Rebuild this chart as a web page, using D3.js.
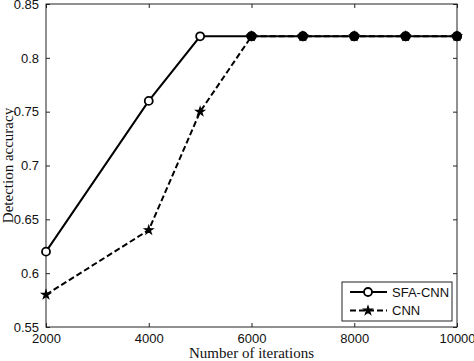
<!DOCTYPE html>
<html><head><meta charset="utf-8">
<script src="https://cdn.jsdelivr.net/npm/d3@7"></script>
<style>body{margin:0;background:#fff}svg{display:block}</style>
</head><body>
<script>
const iterations = [2000, 4000, 5000, 6000, 7000, 8000, 9000, 10000];
const sfaCnn = [0.62, 0.76, 0.82, 0.82, 0.82, 0.82, 0.82, 0.82];
const cnn = [0.58, 0.64, 0.75, 0.82, 0.82, 0.82, 0.82, 0.82];
const xTicks = [2000, 4000, 6000, 8000, 10000];
const yTicks = [0.55, 0.6, 0.65, 0.7, 0.75, 0.8, 0.85];
const seriesNames = ["SFA-CNN", "CNN"];

const W = 474, H = 361;
const m = {left: 46, right: 17, top: 4, bottom: 34};
const svg = d3.select("body").append("svg").attr("width", W).attr("height", H);
const x = d3.scaleLinear().domain([2000, 10000]).range([m.left, W - m.right]);
const y = d3.scaleLinear().domain([0.55, 0.85]).range([H - m.bottom, m.top]);
const sans = "Liberation Sans, Arial, sans-serif";
const serif = "Liberation Serif, Times New Roman, serif";

// box
svg.append("rect").attr("x", x(2000)).attr("y", y(0.85))
  .attr("width", x(10000) - x(2000)).attr("height", y(0.55) - y(0.85))
  .attr("fill", "none").attr("stroke", "#222").attr("stroke-width", 1);

const tl = 4;
const axB = svg.append("g").attr("transform", `translate(0,${y(0.55)})`)
  .call(d3.axisBottom(x).tickValues(xTicks).tickFormat(d3.format("d")).tickSizeInner(-tl).tickSizeOuter(0).tickPadding(7));
const axT = svg.append("g").attr("transform", `translate(0,${y(0.85)})`)
  .call(d3.axisTop(x).tickValues(xTicks).tickFormat("").tickSizeInner(-tl).tickSizeOuter(0));
const axL = svg.append("g").attr("transform", `translate(${x(2000)},0)`)
  .call(d3.axisLeft(y).tickValues(yTicks).tickFormat(d => d3.format("")(+d.toFixed(2))).tickSizeInner(-tl).tickSizeOuter(0).tickPadding(7));
const axR = svg.append("g").attr("transform", `translate(${x(10000)},0)`)
  .call(d3.axisRight(y).tickValues(yTicks).tickFormat("").tickSizeInner(-tl).tickSizeOuter(0));
[axB, axT, axL, axR].forEach(a => {
  a.select(".domain").remove();
  a.selectAll(".tick line").attr("stroke", "#222");
  a.selectAll("text").attr("font-family", sans).attr("font-size", 13).attr("fill", "#111");
});
axB.selectAll("text").attr("dy", "0.71em");

// lines
const line = d3.line().x((d, i) => x(iterations[i])).y(d => y(d));
svg.append("path").datum(sfaCnn).attr("d", line).attr("fill", "none")
  .attr("stroke", "#000").attr("stroke-width", 2);
svg.append("path").datum(cnn).attr("d", line).attr("fill", "none")
  .attr("stroke", "#000").attr("stroke-width", 2).attr("stroke-dasharray", "6,3");

// markers
const star = d3.symbol().type(d3.symbolStar).size(22);
svg.selectAll(".m1").data(sfaCnn).enter().append("circle")
  .attr("cx", (d, i) => x(iterations[i])).attr("cy", d => y(d)).attr("r", 4)
  .attr("fill", "#fff").attr("stroke", "#000").attr("stroke-width", 1.8);
svg.selectAll(".m2").data(cnn).enter().append("path")
  .attr("d", star).attr("transform", (d, i) => `translate(${x(iterations[i])},${y(d)})`)
  .attr("fill", "#000").attr("stroke", "#000").attr("stroke-width", 1.2);
// where both series coincide, the overlapping markers read as a solid dot
iterations.forEach((it, i) => {
  if (cnn[i] === sfaCnn[i]) {
    svg.append("circle").attr("cx", x(it)).attr("cy", y(cnn[i])).attr("r", 5).attr("fill", "#000");
  }
});

// legend
const lg = svg.append("g");
lg.append("rect").attr("x", 342).attr("y", 282).attr("width", 110).attr("height", 39)
  .attr("fill", "#fff").attr("stroke", "#222").attr("stroke-width", 1);
[0, 1].forEach(k => {
  const yy = 292 + k * 18.5;
  lg.append("line").attr("x1", 350).attr("x2", 387).attr("y1", yy).attr("y2", yy)
    .attr("stroke", "#000").attr("stroke-width", 2).attr("stroke-dasharray", k ? "6,3" : null);
  if (k === 0) lg.append("circle").attr("cx", 368).attr("cy", yy).attr("r", 4)
    .attr("fill", "#fff").attr("stroke", "#000").attr("stroke-width", 1.8);
  else lg.append("path").attr("d", star).attr("transform", `translate(368,${yy})`)
    .attr("fill", "#000").attr("stroke", "#000").attr("stroke-width", 1.2);
  lg.append("text").attr("x", 392).attr("y", yy + 4.5).text(seriesNames[k])
    .attr("font-family", sans).attr("font-size", 13).attr("fill", "#111");
});

// axis titles
svg.append("text").attr("x", (x(2000) + x(10000)) / 2).attr("y", 358).attr("text-anchor", "middle")
  .attr("font-family", serif).attr("font-size", 15).attr("fill", "#111").text("Number of iterations");
svg.append("text").attr("transform", `translate(13,${(y(0.55) + y(0.85)) / 2}) rotate(-90)`)
  .attr("text-anchor", "middle").attr("font-family", serif).attr("font-size", 15).attr("fill", "#111")
  .text("Detection accuracy");
</script>
</body></html>
